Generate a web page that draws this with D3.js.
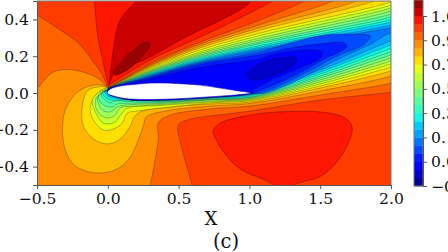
<!DOCTYPE html>
<html>
  <head>
    <meta charset="utf-8">
    <style>
      html, body { margin: 0; padding: 0; background: #fff; overflow: hidden; }
      text { font-family: "DejaVu Serif", serif; fill: #111; }
      .tick line, .domain { stroke: #555; }
    </style>
  </head>
  <body>
    <svg width="448" height="252"></svg>
    <script src="https://d3js.org/d3.v7.min.js"></script>
    <script>
    // colour levels of the filled contours
    var levels = [-0.18,-0.12,-0.06,0,0.06,0.12,0.18,0.24,0.30,0.36,0.42,0.48,0.54,0.60,0.66,0.72,0.78,0.84,0.90,0.96,1.02,1.08,1.14,1.20];
    var cbarTicks = [-0.18,0,0.18,0.36,0.54,0.72,0.90,1.08];
    var xTicks = [-0.5,0,0.5,1,1.5,2];
    var yTicks = [-0.4,-0.2,0,0.2,0.4];

    // level lines, [x, y] in plot units
    // upper wake lines, y at the stations upperX, then where they leave the frame
    var leadingEdge = [0, 0.025];
    var upperX = [0.30, 0.653, 1.077];
    var upperY = {
      18: [0.160,0.277,0.397], 17: [0.152,0.266,0.372], 16: [0.147,0.255,0.356],
      15: [0.141,0.245,0.342], 14: [0.135,0.234,0.326], 13: [0.129,0.223,0.313],
      12: [0.123,0.215,0.299], 11: [0.118,0.207,0.288], 10: [0.114,0.200,0.277],
      9: [0.110,0.193,0.269], 8: [0.105,0.186,0.258], 7: [0.102,0.180,0.250],
      6: [0.098,0.174,0.242]
    };
    var upperEnd = {
      18: [[1.402,0.505],[1.45,0.53]], 17: [[1.607,0.505],[1.65,0.53]],
      16: [[1.769,0.505],[1.81,0.53]], 15: [[1.889,0.505],[1.93,0.53]],
      14: [[2,0.495],[2.05,0.515]], 13: [[2,0.478],[2.05,0.497]],
      12: [[2,0.462],[2.05,0.48]], 11: [[2,0.446],[2.05,0.465]],
      10: [[2,0.429],[2.05,0.447]], 9: [[2,0.413],[2.05,0.43]],
      8: [[2,0.399],[2.05,0.415]], 7: [[2,0.386],[2.05,0.40]],
      6: [[2,0.37],[2.05,0.385]]
    };

    // lower lines, from the right edge back under the airfoil to the nose
    var lowerLines = {
      18: [[2.05,0.015],[2,0.005],[1.5,-0.038],[1.006,-0.098],[0.561,-0.147],[0.498,-0.174],[0.526,-0.31],[0.595,-0.5],[0.6,-0.53]],
      17: [[2.05,0.07],[2,0.054],[1.5,-0.011],[1.006,-0.071],[0.724,-0.087],[0.441,-0.12],[0.357,-0.163],[0.357,-0.25],[0.30,-0.5],[0.29,-0.53]],
      16: [[2.05,0.11],[2,0.092],[1.5,0.011],[1.006,-0.057],[0.724,-0.071],[0.406,-0.098],[0.272,-0.13],[0.251,-0.179],[0.201,-0.283],[0.145,-0.364],[0.053,-0.418],[-0.053,-0.435],[-0.15,-0.425],[-0.24,-0.39],[-0.30,-0.31],[-0.32,-0.2],[-0.30,-0.092],[-0.215,0.005],[-0.102,0.043],[-0.018,0.038],[0,0.025]],
      15: [[2.05,0.135],[2,0.12],[1.5,0.027],[1.006,-0.049],[0.724,-0.06],[0.441,-0.076],[0.244,-0.098],[0.187,-0.13],[0.159,-0.179],[0.088,-0.25],[-0.004,-0.277],[-0.10,-0.25],[-0.173,-0.179],[-0.18,-0.076],[-0.138,0.016],[-0.018,0.033],[0,0.025]],
      14: [[2.05,0.155],[2,0.141],[1.5,0.038],[1.006,-0.042],[0.724,-0.054],[0.371,-0.082],[0.208,-0.098],[0.138,-0.109],[0.102,-0.163],[0.039,-0.196],[-0.032,-0.201],[-0.102,-0.147],[-0.124,-0.076],[-0.074,0],[-0.011,0.027],[0,0.025]],
      13: [[2.05,0.172],[2,0.158],[1.5,0.049],[1.006,-0.037],[0.724,-0.049],[0.371,-0.068],[0.138,-0.082],[0.102,-0.109],[0.039,-0.163],[-0.032,-0.163],[-0.088,-0.103],[-0.11,-0.038],[-0.06,0.005],[-0.011,0.022],[0,0.022]],
      12: [[2.05,0.188],[2,0.174],[1.5,0.06],[1.006,-0.033],[0.724,-0.044],[0.371,-0.063],[0.208,-0.071],[0.088,-0.082],[0.053,-0.12],[-0.004,-0.136],[-0.067,-0.109],[-0.088,-0.038],[-0.04,0.005],[-0.005,0.018]],
      11: [[2.05,0.203],[2,0.19],[1.5,0.071],[1.006,-0.029],[0.724,-0.038],[0.371,-0.057],[0.138,-0.065],[0.067,-0.076],[0.018,-0.103],[-0.039,-0.092],[-0.074,-0.027],[-0.03,0.01],[-0.005,0.016]],
      10: [[2.05,0.22],[2,0.207],[1.5,0.082],[1.006,-0.025],[0.724,-0.035],[0.371,-0.052],[0.138,-0.056],[0.067,-0.06],[0.032,-0.076],[-0.032,-0.065],[-0.067,-0.022],[-0.025,0.01],[-0.004,0.014]],
      9: [[2.05,0.235],[2,0.223],[1.5,0.092],[1.006,-0.022],[0.724,-0.033],[0.371,-0.047],[0.138,-0.046],[0.053,-0.043],[0.018,-0.054],[-0.018,-0.038],[-0.046,-0.011],[-0.02,0.008],[-0.004,0.012]],
      8: [[2.05,0.254],[2,0.242],[1.5,0.103],[1.006,-0.016],[0.724,-0.03],[0.371,-0.043],[0.088,-0.038],[0.032,-0.038],[-0.004,-0.03],[-0.039,0],[-0.01,0.01],[-0.002,0.01]],
      7: [[2.05,0.272],[2,0.261],[1.5,0.114],[1.006,-0.011],[0.724,-0.027],[0.371,-0.04],[0.159,-0.038],[0.046,-0.027],[0.004,-0.019],[-0.025,0.008],[-0.002,0.01]],
      6: [[2.05,0.294],[2,0.283],[1.5,0.125],[1.006,-0.005],[0.724,-0.025],[0.371,-0.04],[0.159,-0.037],[0.06,-0.025],[0.011,-0.011],[-0.018,0.014],[0,0.01]]
    };

    // left of the nose, the two lines that run out to the left edge
    var leftLines = {
      18: [[-0.55,0.45],[-0.498,0.424],[-0.335,0.342],[-0.215,0.277],[-0.11,0.179],[-0.04,0.098],[0,0.03]],
      17: [[-0.55,0],[-0.498,0.027],[-0.385,0.114],[-0.244,0.125],[-0.074,0.082],[-0.004,0.033]]
    };

    // blue core of the wake
    var underFoil = [[0.724,-0.024],[0.371,-0.038],[0.16,-0.037],[0.06,-0.02],[0.01,-0.008],[0,0.01]];
    var core5Upper = [[0,0.02],[0.30,0.093],[0.653,0.168],[1.077,0.234],[2,0.353],[2.05,0.36]];
    var core5Lower = [[2.05,0.31],[2,0.326],[1.862,0.267],[1.72,0.217],[1.53,0.147],[1.296,0.054],[1.115,0],[1,-0.006]].concat(underFoil);
    var core4 = [[0,0.02],[0.30,0.089],[0.653,0.163],[1.077,0.223],[1.29,0.272],[1.53,0.315],[1.833,0.315],[1.854,0.31],[1.812,0.266],[1.62,0.201],[1.408,0.114],[1.14,0.016],[1.05,-0.002]].concat(underFoil);
    var core3 = [[0,0.02],[0.30,0.084],[0.653,0.155],[1.077,0.209],[1.29,0.245],[1.5,0.267],[1.67,0.272],[1.685,0.25],[1.53,0.185],[1.296,0.087],[1.084,0.016],[1.02,-0.002]].concat(underFoil);
    var core2 = [[0,0.02],[0.30,0.076],[0.653,0.139],[0.82,0.158],[1.077,0.185],[1.176,0.21],[1.41,0.234],[1.515,0.223],[1.508,0.196],[1.318,0.125],[1.127,0.06],[1.02,0.01],[1.01,-0.002]].concat(underFoil);
    var core1 = [[0.978,0.098],[1.084,0.163],[1.331,0.19],[1.331,0.163],[1.176,0.098],[1.02,0.071]];

    // high side: red above the airfoil and the big patch lower right
    var high20Left = [[0.004,0.04],[-0.032,0.163],[-0.074,0.326],[-0.095,0.505],[-0.1,0.53]];
    var high20Right = [[1.19,0.53],[1.169,0.505],[1.006,0.436],[0.653,0.304],[0.30,0.179],[0.004,0.04]];
    var high21Left = [[0.011,0.043],[0.032,0.196],[0.088,0.397],[0.21,0.51],[0.22,0.53]];
    var high21Right = [[1.01,0.53],[1.006,0.495],[0.512,0.288],[0.30,0.196],[0.039,0.098],[0.011,0.043]];
    var high22 = [[0.293,0.272],[0.272,0.277],[0.18,0.234],[0.088,0.163],[0.039,0.109],[0.053,0.098],[0.159,0.136],[0.251,0.207],[0.293,0.25]];
    var patch20 = [[1.006,-0.12],[1.197,-0.103],[1.501,-0.103],[1.663,-0.13],[1.713,-0.163],[1.727,-0.201],[1.649,-0.342],[1.508,-0.451],[1.317,-0.5],[1.25,-0.56],[1.176,-0.5],[0.936,-0.413],[0.823,-0.326],[0.745,-0.217],[0.745,-0.201],[0.794,-0.163]];

    var airfoil = [[-0.004,0],[0.018,0.022],[0.088,0.038],[0.18,0.046],[0.30,0.054],[0.42,0.054],[0.547,0.049],[0.653,0.043],[0.794,0.027],[0.90,0.014],[1.013,0],[0.90,-0.011],[0.759,-0.019],[0.653,-0.024],[0.441,-0.033],[0.23,-0.035],[0.124,-0.03],[0.039,-0.016]];

    // matplotlib jet segments
    var jetR = d3.scaleLinear().domain([0,0.35,0.66,0.89,1]).range([0,0,1,1,0.5]);
    var jetG = d3.scaleLinear().domain([0,0.125,0.375,0.64,0.91,1]).range([0,0,1,1,0,0]);
    var jetB = d3.scaleLinear().domain([0,0.11,0.34,0.65,1]).range([0.5,1,1,0,0]);
    function band(i) {
      var t = (i + 0.5) / (levels.length - 1);
      return d3.rgb(jetR(t) * 255, jetG(t) * 255, jetB(t) * 255).formatHex();
    }

    var svg = d3.select("svg");
    var x = d3.scaleLinear().domain([-0.5, 2]).range([37, 391]);
    var y = d3.scaleLinear().domain([-0.5, 0.5]).range([185, 1]);
    var c = d3.scaleLinear().domain([-0.18, 1.08]).range([186, 16]);

    var openLine = d3.line().x(function(d) { return x(d[0]); }).y(function(d) { return y(d[1]); })
        .curve(d3.curveCatmullRom.alpha(0.5));
    var loopLine = d3.line().x(function(d) { return x(d[0]); }).y(function(d) { return y(d[1]); })
        .curve(d3.curveCatmullRomClosed.alpha(0.5));

    function pt(p) { return "L" + x(p[0]) + "," + y(p[1]); }
    function join(a) { return openLine(a).replace(/^M/, "L"); }

    svg.append("clipPath").attr("id", "frame").append("rect")
        .attr("x", 37).attr("y", 1).attr("width", 354).attr("height", 184);
    // the reference is a slightly soft raster
    svg.append("filter").attr("id", "soft").append("feGaussianBlur").attr("stdDeviation", 0.4);

    var g = svg.append("g").attr("clip-path", "url(#frame)").append("g").attr("filter", "url(#soft)");

    g.append("rect").attr("x", 30).attr("y", -6).attr("width", 368).attr("height", 198)
        .attr("fill", band(19));

    function region(i, fillD, lineD) {
      g.append("path").attr("d", fillD).attr("fill", band(i)).attr("stroke", "none");
      g.append("path").attr("d", lineD || fillD).attr("fill", "none")
          .attr("stroke", "#000").attr("stroke-opacity", 0.45).attr("stroke-width", 0.6);
    }

    // red side first, then the wake from the outer level inwards
    region(20, loopLine(patch20));
    region(20, openLine(high20Left) + join(high20Right) + "Z", openLine(high20Left) + openLine(high20Right));
    region(21, openLine(high21Left) + join(high21Right) + "Z", openLine(high21Left) + openLine(high21Right));
    region(22, loopLine(high22));

    [18,17,16,15,14,13,12,11,10,9,8,7,6].forEach(function(k) {
      var upper = [leadingEdge].concat(upperX.map(function(px, i) { return [px, upperY[k][i]]; }), upperEnd[k]);
      var lower = lowerLines[k];
      var left = leftLines[k];
      var d = openLine(upper) + pt([2.2, 0.6]) + join(lower);
      var line = openLine(upper) + openLine(lower);
      if (left) {
        d += pt([-0.7, -0.7]) + pt([-0.7, 0.6]) + join(left);
        line += openLine(left);
      }
      region(k, d + "Z", line);
    });

    region(5, openLine(core5Upper) + join(core5Lower) + "Z", openLine(core5Upper) + openLine(core5Lower));
    region(4, loopLine(core4));
    region(3, loopLine(core3));
    region(2, loopLine(core2));
    region(1, loopLine(core1));

    g.append("path").attr("d", loopLine(airfoil)).attr("fill", "#fff")
        .attr("stroke", band(1)).attr("stroke-width", 0.6);

    // axes
    var xAxis = svg.append("g").attr("transform", "translate(0,185)")
        .call(d3.axisBottom(x).tickValues(xTicks).tickSize(4).tickPadding(4).tickFormat(d3.format(".1f")));
    var yAxis = svg.append("g").attr("transform", "translate(37,0)")
        .call(d3.axisLeft(y).tickValues(yTicks).tickSize(4).tickPadding(4).tickFormat(d3.format(".1f")));
    svg.append("path").attr("d", "M37,1H391V185").attr("fill", "none").attr("stroke", "#777");

    var cbar = svg.append("g");
    cbar.selectAll("rect").data(levels.slice(0, -1)).enter().append("rect")
        .attr("x", 414).attr("width", 9)
        .attr("y", function(d, i) { return c(levels[i + 1]); })
        .attr("height", function(d, i) { return c(levels[i]) - c(levels[i + 1]) + 0.3; })
        .attr("fill", function(d, i) { return band(i); });
    cbar.append("rect").attr("x", 414).attr("y", 0).attr("width", 9).attr("height", 186)
        .attr("fill", "none").attr("stroke", "#777");
    var cAxis = svg.append("g").attr("transform", "translate(423,0)")
        .call(d3.axisRight(c).tickValues(cbarTicks).tickSize(4).tickPadding(4).tickFormat(d3.format(".2f")));

    [xAxis, yAxis, cAxis].forEach(function(a) {
      a.selectAll("text").style("font-size", "15.6px").style("font-family", '"DejaVu Serif", serif');
      a.select(".domain").attr("stroke", "#666");
    });

    svg.append("text").attr("x", 211).attr("y", 225).attr("text-anchor", "middle")
        .style("font-size", "18px").text("X");
    svg.append("text").attr("x", 226).attr("y", 248).attr("text-anchor", "middle")
        .style("font-size", "19.5px").text("(c)");
    </script>
  </body>
</html>
